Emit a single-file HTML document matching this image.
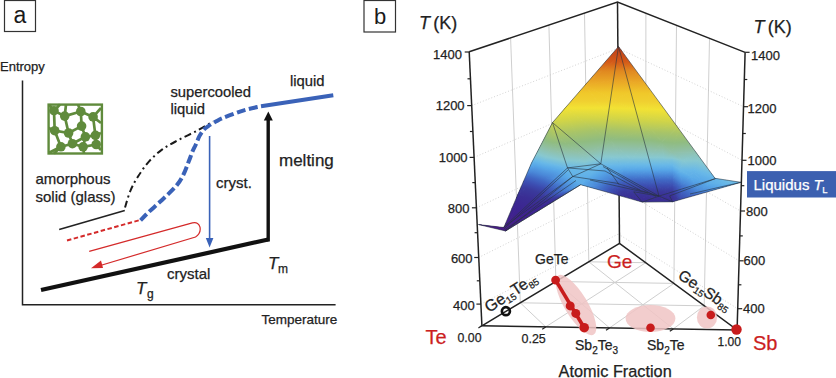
<!DOCTYPE html><html><head><meta charset="utf-8"><style>html,body{margin:0;padding:0;background:#fff;}svg{display:block;}</style></head><body>
<svg width="836" height="378" viewBox="0 0 836 378" style='font-family:"Liberation Sans", sans-serif'>
<defs><linearGradient id="cm"><stop offset="0.0000" stop-color="#4a1a88"/><stop offset="0.1064" stop-color="#3c2490"/><stop offset="0.1755" stop-color="#3a2e94"/><stop offset="0.2128" stop-color="#3a3a9c"/><stop offset="0.2394" stop-color="#3c4cb0"/><stop offset="0.2713" stop-color="#4068c4"/><stop offset="0.3032" stop-color="#4a88d8"/><stop offset="0.3457" stop-color="#58a8e8"/><stop offset="0.3723" stop-color="#68b8e8"/><stop offset="0.4149" stop-color="#88c8d0"/><stop offset="0.4628" stop-color="#90c0a8"/><stop offset="0.5106" stop-color="#90bc80"/><stop offset="0.5585" stop-color="#a8c468"/><stop offset="0.6170" stop-color="#d0d448"/><stop offset="0.6755" stop-color="#f2e234"/><stop offset="0.7128" stop-color="#f0d030"/><stop offset="0.7553" stop-color="#f0c82a"/><stop offset="0.8138" stop-color="#eaa826"/><stop offset="0.8723" stop-color="#e08820"/><stop offset="0.9202" stop-color="#d45a18"/><stop offset="0.9787" stop-color="#c44418"/><stop offset="1.0000" stop-color="#b83818"/></linearGradient><clipPath id="silclip"><polygon points="478.3,224.5 503.8,227.5 518.0,194.0 531.5,163.0 552.5,122.6 618.5,46.5 715.0,178.3 741.0,182.3 672.7,201.8 642.2,202.1 580.7,184.7 505.5,231.0"/></clipPath><linearGradient id="s0" gradientUnits="userSpaceOnUse" x1="643.87" y1="140.48" x2="679.76" y2="90.42" href="#cm"/><linearGradient id="s1" gradientUnits="userSpaceOnUse" x1="661.79" y1="206.73" x2="710.14" y2="77.51" href="#cm"/><linearGradient id="s2" gradientUnits="userSpaceOnUse" x1="578.54" y1="251.73" x2="674.06" y2="-84.80" href="#cm"/><linearGradient id="s3" gradientUnits="userSpaceOnUse" x1="548.91" y1="230.82" x2="548.12" y2="45.44" href="#cm"/><linearGradient id="s4" gradientUnits="userSpaceOnUse" x1="510.53" y1="230.75" x2="501.80" y2="51.75" href="#cm"/><linearGradient id="s5" gradientUnits="userSpaceOnUse" x1="631.77" y1="240.31" x2="627.45" y2="46.30" href="#cm"/><linearGradient id="s6" gradientUnits="userSpaceOnUse" x1="626.67" y1="235.00" x2="626.67" y2="47.00" href="#cm"/><linearGradient id="s7" gradientUnits="userSpaceOnUse" x1="685.38" y1="196.08" x2="731.04" y2="105.29" href="#cm"/><linearGradient id="s8" gradientUnits="userSpaceOnUse" x1="527.67" y1="220.21" x2="506.52" y2="66.40" href="#cm"/><linearGradient id="s9" gradientUnits="userSpaceOnUse" x1="496.68" y1="232.71" x2="358.53" y2="-478.77" href="#cm"/><linearGradient id="s10" gradientUnits="userSpaceOnUse" x1="496.37" y1="227.63" x2="504.53" y2="112.14" href="#cm"/><linearGradient id="s11" gradientUnits="userSpaceOnUse" x1="503.80" y1="229.31" x2="627.48" y2="104.74" href="#cm"/><linearGradient id="s12" gradientUnits="userSpaceOnUse" x1="626.00" y1="235.00" x2="626.00" y2="47.00" href="#cm"/><linearGradient id="s13" gradientUnits="userSpaceOnUse" x1="708.90" y1="217.54" x2="701.97" y2="128.90" href="#cm"/><linearGradient id="s14" gradientUnits="userSpaceOnUse" x1="653.42" y1="242.09" x2="661.62" y2="45.78" href="#cm"/><linearGradient id="s15" gradientUnits="userSpaceOnUse" x1="633.99" y1="241.31" x2="637.71" y2="45.15" href="#cm"/><linearGradient id="s16" gradientUnits="userSpaceOnUse" x1="619.14" y1="235.72" x2="626.04" y2="47.28" href="#cm"/><linearGradient id="s17" gradientUnits="userSpaceOnUse" x1="500.66" y1="242.08" x2="679.93" y2="42.63" href="#cm"/><linearGradient id="s18" gradientUnits="userSpaceOnUse" x1="530.35" y1="230.42" x2="609.29" y2="63.21" href="#cm"/><linearGradient id="s19" gradientUnits="userSpaceOnUse" x1="527.77" y1="238.00" x2="647.74" y2="64.85" href="#cm"/><linearGradient id="s20" gradientUnits="userSpaceOnUse" x1="541.78" y1="223.13" x2="572.69" y2="67.23" href="#cm"/><linearGradient id="s21" gradientUnits="userSpaceOnUse" x1="694.22" y1="254.43" x2="689.23" y2="28.27" href="#cm"/><linearGradient id="s22" gradientUnits="userSpaceOnUse" x1="673.79" y1="257.73" x2="747.25" y2="28.85" href="#cm"/><linearGradient id="s23" gradientUnits="userSpaceOnUse" x1="634.00" y1="227.92" x2="581.16" y2="56.18" href="#cm"/><linearGradient id="s24" gradientUnits="userSpaceOnUse" x1="647.96" y1="234.09" x2="486.33" y2="64.80" href="#cm"/><linearGradient id="s25" gradientUnits="userSpaceOnUse" x1="628.36" y1="229.29" x2="576.93" y2="58.41" href="#cm"/><linearGradient id="s26" gradientUnits="userSpaceOnUse" x1="505.53" y1="236.10" x2="689.19" y2="58.24" href="#cm"/><linearGradient id="s27" gradientUnits="userSpaceOnUse" x1="544.68" y1="445.89" x2="626.90" y2="-298.40" href="#cm"/><linearGradient id="s28" gradientUnits="userSpaceOnUse" x1="519.08" y1="215.93" x2="485.22" y2="87.59" href="#cm"/><linearGradient id="s29" gradientUnits="userSpaceOnUse" x1="496.63" y1="234.17" x2="567.42" y2="4.83" href="#cm"/><linearGradient id="s30" gradientUnits="userSpaceOnUse" x1="499.03" y1="231.41" x2="534.08" y2="7.13" href="#cm"/><linearGradient id="s31" gradientUnits="userSpaceOnUse" x1="508.48" y1="233.53" x2="575.52" y2="8.65" href="#cm"/><linearGradient id="s32" gradientUnits="userSpaceOnUse" x1="475.78" y1="176.90" x2="613.69" y2="106.73" href="#cm"/><linearGradient id="s33" gradientUnits="userSpaceOnUse" x1="525.75" y1="220.83" x2="572.32" y2="65.60" href="#cm"/><linearGradient id="s34" gradientUnits="userSpaceOnUse" x1="537.86" y1="230.53" x2="580.35" y2="53.42" href="#cm"/><linearGradient id="s35" gradientUnits="userSpaceOnUse" x1="540.56" y1="223.35" x2="571.60" y2="66.27" href="#cm"/><linearGradient id="s36" gradientUnits="userSpaceOnUse" x1="603.00" y1="235.00" x2="603.00" y2="47.00" href="#cm"/><linearGradient id="s37" gradientUnits="userSpaceOnUse" x1="587.00" y1="235.00" x2="587.00" y2="47.00" href="#cm"/><linearGradient id="s38" gradientUnits="userSpaceOnUse" x1="604.33" y1="235.00" x2="604.33" y2="47.00" href="#cm"/><linearGradient id="s39" gradientUnits="userSpaceOnUse" x1="605.00" y1="235.00" x2="605.00" y2="47.00" href="#cm"/><linearGradient id="s40" gradientUnits="userSpaceOnUse" x1="598.76" y1="243.01" x2="606.90" y2="46.02" href="#cm"/><linearGradient id="s41" gradientUnits="userSpaceOnUse" x1="725.62" y1="207.03" x2="718.32" y2="145.49" href="#cm"/><linearGradient id="s42" gradientUnits="userSpaceOnUse" x1="854.03" y1="357.87" x2="526.83" y2="-106.95" href="#cm"/><linearGradient id="s43" gradientUnits="userSpaceOnUse" x1="679.77" y1="242.98" x2="767.66" y2="62.80" href="#cm"/><linearGradient id="s44" gradientUnits="userSpaceOnUse" x1="669.67" y1="282.30" x2="763.65" y2="-10.53" href="#cm"/><linearGradient id="s45" gradientUnits="userSpaceOnUse" x1="681.20" y1="265.82" x2="728.06" y2="17.97" href="#cm"/><linearGradient id="s46" gradientUnits="userSpaceOnUse" x1="691.11" y1="333.15" x2="702.48" y2="-107.44" href="#cm"/><linearGradient id="s47" gradientUnits="userSpaceOnUse" x1="661.95" y1="245.12" x2="679.63" y2="44.19" href="#cm"/><linearGradient id="s48" gradientUnits="userSpaceOnUse" x1="692.10" y1="239.72" x2="676.07" y2="48.52" href="#cm"/><linearGradient id="s49" gradientUnits="userSpaceOnUse" x1="692.43" y1="241.82" x2="675.66" y2="46.02" href="#cm"/><linearGradient id="s50" gradientUnits="userSpaceOnUse" x1="654.34" y1="241.92" x2="662.60" y2="45.94" href="#cm"/><linearGradient id="s51" gradientUnits="userSpaceOnUse" x1="660.06" y1="239.93" x2="667.48" y2="47.72" href="#cm"/><linearGradient id="s52" gradientUnits="userSpaceOnUse" x1="631.30" y1="240.95" x2="639.58" y2="44.98" href="#cm"/><linearGradient id="s53" gradientUnits="userSpaceOnUse" x1="605.29" y1="236.94" x2="617.10" y2="38.68" href="#cm"/><linearGradient id="s54" gradientUnits="userSpaceOnUse" x1="700.23" y1="207.04" x2="692.41" y2="158.96" href="#cm"/><linearGradient id="s55" gradientUnits="userSpaceOnUse" x1="663.99" y1="230.80" x2="747.61" y2="83.04" href="#cm"/><linearGradient id="s56" gradientUnits="userSpaceOnUse" x1="646.37" y1="248.79" x2="794.70" y2="41.78" href="#cm"/><linearGradient id="s57" gradientUnits="userSpaceOnUse" x1="856.88" y1="438.66" x2="74.38" y2="-289.25" href="#cm"/><linearGradient id="s58" gradientUnits="userSpaceOnUse" x1="601.64" y1="353.31" x2="543.83" y2="-138.09" href="#cm"/><linearGradient id="s59" gradientUnits="userSpaceOnUse" x1="649.70" y1="237.93" x2="468.72" y2="69.58" href="#cm"/><linearGradient id="s60" gradientUnits="userSpaceOnUse" x1="620.49" y1="227.99" x2="557.88" y2="76.20" href="#cm"/><linearGradient id="s61" gradientUnits="userSpaceOnUse" x1="634.60" y1="239.13" x2="531.01" y2="50.65" href="#cm"/><linearGradient id="s62" gradientUnits="userSpaceOnUse" x1="601.29" y1="354.29" x2="571.21" y2="-142.08" href="#cm"/><linearGradient id="s63" gradientUnits="userSpaceOnUse" x1="557.41" y1="229.32" x2="569.63" y2="61.01" href="#cm"/><linearGradient id="s64" gradientUnits="userSpaceOnUse" x1="611.90" y1="228.83" x2="576.86" y2="59.72" href="#cm"/><linearGradient id="s65" gradientUnits="userSpaceOnUse" x1="608.67" y1="234.68" x2="562.38" y2="55.76" href="#cm"/><linearGradient id="s66" gradientUnits="userSpaceOnUse" x1="564.07" y1="233.71" x2="573.90" y2="57.01" href="#cm"/><linearGradient id="s67" gradientUnits="userSpaceOnUse" x1="570.73" y1="239.33" x2="591.56" y2="50.74" href="#cm"/><linearGradient id="s68" gradientUnits="userSpaceOnUse" x1="580.40" y1="252.72" x2="557.46" y2="38.51" href="#cm"/><linearGradient id="s69" gradientUnits="userSpaceOnUse" x1="519.93" y1="235.78" x2="535.45" y2="13.17" href="#cm"/><linearGradient id="s70" gradientUnits="userSpaceOnUse" x1="507.74" y1="219.92" x2="480.65" y2="99.14" href="#cm"/><linearGradient id="s71" gradientUnits="userSpaceOnUse" x1="501.49" y1="230.76" x2="527.33" y2="16.96" href="#cm"/><linearGradient id="s72" gradientUnits="userSpaceOnUse" x1="526.86" y1="221.22" x2="572.16" y2="65.54" href="#cm"/><linearGradient id="s73" gradientUnits="userSpaceOnUse" x1="524.38" y1="220.92" x2="571.50" y2="64.85" href="#cm"/><linearGradient id="s74" gradientUnits="userSpaceOnUse" x1="448.62" y1="237.73" x2="622.03" y2="46.72" href="#cm"/><linearGradient id="s75" gradientUnits="userSpaceOnUse" x1="506.77" y1="266.45" x2="589.00" y2="30.51" href="#cm"/><linearGradient id="s76" gradientUnits="userSpaceOnUse" x1="470.67" y1="185.03" x2="611.30" y2="87.63" href="#cm"/><linearGradient id="s77" gradientUnits="userSpaceOnUse" x1="477.30" y1="204.37" x2="609.54" y2="76.37" href="#cm"/><linearGradient id="s78" gradientUnits="userSpaceOnUse" x1="522.32" y1="219.64" x2="569.20" y2="64.99" href="#cm"/><linearGradient id="s79" gradientUnits="userSpaceOnUse" x1="549.87" y1="204.14" x2="517.92" y2="85.34" href="#cm"/><linearGradient id="s80" gradientUnits="userSpaceOnUse" x1="519.87" y1="219.26" x2="568.57" y2="64.26" href="#cm"/><linearGradient id="s81" gradientUnits="userSpaceOnUse" x1="529.42" y1="218.10" x2="533.96" y2="65.72" href="#cm"/><linearGradient id="s82" gradientUnits="userSpaceOnUse" x1="543.66" y1="221.73" x2="515.54" y2="58.42" href="#cm"/><linearGradient id="s83" gradientUnits="userSpaceOnUse" x1="660.86" y1="256.03" x2="788.70" y2="44.36" href="#cm"/><linearGradient id="s84" gradientUnits="userSpaceOnUse" x1="524.97" y1="285.22" x2="1041.72" y2="-7.87" href="#cm"/><linearGradient id="s85" gradientUnits="userSpaceOnUse" x1="697.24" y1="253.63" x2="742.43" y2="57.35" href="#cm"/><linearGradient id="s86" gradientUnits="userSpaceOnUse" x1="562.09" y1="345.95" x2="987.70" y2="-102.30" href="#cm"/><linearGradient id="s87" gradientUnits="userSpaceOnUse" x1="618.44" y1="235.93" x2="627.71" y2="47.46" href="#cm"/><linearGradient id="s88" gradientUnits="userSpaceOnUse" x1="613.00" y1="235.00" x2="613.00" y2="47.00" href="#cm"/><linearGradient id="s89" gradientUnits="userSpaceOnUse" x1="616.47" y1="229.44" x2="580.24" y2="56.95" href="#cm"/><linearGradient id="s90" gradientUnits="userSpaceOnUse" x1="595.00" y1="235.00" x2="595.00" y2="47.00" href="#cm"/><linearGradient id="s91" gradientUnits="userSpaceOnUse" x1="599.31" y1="250.82" x2="575.13" y2="36.40" href="#cm"/><linearGradient id="s92" gradientUnits="userSpaceOnUse" x1="656.27" y1="184.53" x2="660.06" y2="275.60" href="#cm"/><linearGradient id="s93" gradientUnits="userSpaceOnUse" x1="664.23" y1="188.85" x2="664.23" y2="254.65" href="#cm"/><linearGradient id="s94" gradientUnits="userSpaceOnUse" x1="630.79" y1="222.00" x2="592.50" y2="70.53" href="#cm"/><linearGradient id="s95" gradientUnits="userSpaceOnUse" x1="629.50" y1="211.86" x2="598.17" y2="93.40" href="#cm"/><linearGradient id="s96" gradientUnits="userSpaceOnUse" x1="627.26" y1="225.41" x2="604.74" y2="65.10" href="#cm"/><linearGradient id="s97" gradientUnits="userSpaceOnUse" x1="613.38" y1="233.90" x2="609.64" y2="49.51" href="#cm"/><linearGradient id="s98" gradientUnits="userSpaceOnUse" x1="618.00" y1="235.00" x2="618.00" y2="47.00" href="#cm"/><linearGradient id="s99" gradientUnits="userSpaceOnUse" x1="612.42" y1="238.58" x2="607.29" y2="41.90" href="#cm"/><linearGradient id="s100" gradientUnits="userSpaceOnUse" x1="518.85" y1="237.33" x2="542.10" y2="7.40" href="#cm"/><linearGradient id="s101" gradientUnits="userSpaceOnUse" x1="515.33" y1="220.71" x2="543.79" y2="80.10" href="#cm"/><linearGradient id="s102" gradientUnits="userSpaceOnUse" x1="518.76" y1="225.13" x2="565.99" y2="49.85" href="#cm"/><linearGradient id="s103" gradientUnits="userSpaceOnUse" x1="621.67" y1="235.00" x2="621.67" y2="47.00" href="#cm"/><linearGradient id="s104" gradientUnits="userSpaceOnUse" x1="627.55" y1="231.81" x2="633.88" y2="51.63" href="#cm"/><linearGradient id="s105" gradientUnits="userSpaceOnUse" x1="648.73" y1="178.71" x2="648.73" y2="304.33" href="#cm"/><linearGradient id="s106" gradientUnits="userSpaceOnUse" x1="637.33" y1="238.45" x2="637.33" y2="11.55" href="#cm"/><linearGradient id="s107" gradientUnits="userSpaceOnUse" x1="632.00" y1="238.45" x2="632.00" y2="11.55" href="#cm"/><linearGradient id="s108" gradientUnits="userSpaceOnUse" x1="639.99" y1="187.87" x2="614.84" y2="249.07" href="#cm"/><linearGradient id="s109" gradientUnits="userSpaceOnUse" x1="643.40" y1="178.71" x2="643.40" y2="304.33" href="#cm"/><linearGradient id="s110" gradientUnits="userSpaceOnUse" x1="663.69" y1="206.07" x2="691.84" y2="92.41" href="#cm"/><linearGradient id="s111" gradientUnits="userSpaceOnUse" x1="652.73" y1="228.34" x2="710.75" y2="60.39" href="#cm"/><linearGradient id="s112" gradientUnits="userSpaceOnUse" x1="633.12" y1="237.61" x2="750.09" y2="50.45" href="#cm"/><linearGradient id="s113" gradientUnits="userSpaceOnUse" x1="696.70" y1="322.78" x2="672.42" y2="-88.77" href="#cm"/><linearGradient id="s114" gradientUnits="userSpaceOnUse" x1="683.99" y1="251.04" x2="687.91" y2="33.65" href="#cm"/><linearGradient id="s115" gradientUnits="userSpaceOnUse" x1="667.02" y1="228.90" x2="717.42" y2="75.83" href="#cm"/><linearGradient id="s116" gradientUnits="userSpaceOnUse" x1="654.15" y1="209.63" x2="731.45" y2="109.26" href="#cm"/><linearGradient id="s117" gradientUnits="userSpaceOnUse" x1="649.98" y1="206.42" x2="728.27" y2="106.78" href="#cm"/><linearGradient id="s118" gradientUnits="userSpaceOnUse" x1="643.02" y1="230.68" x2="664.34" y2="54.58" href="#cm"/><linearGradient id="s119" gradientUnits="userSpaceOnUse" x1="669.57" y1="188.85" x2="669.57" y2="254.65" href="#cm"/><linearGradient id="s120" gradientUnits="userSpaceOnUse" x1="666.23" y1="190.14" x2="710.34" y2="239.32" href="#cm"/><linearGradient id="s121" gradientUnits="userSpaceOnUse" x1="654.72" y1="210.11" x2="755.59" y2="148.58" href="#cm"/><linearGradient id="s122" gradientUnits="userSpaceOnUse" x1="642.09" y1="211.39" x2="788.73" y2="130.54" href="#cm"/><linearGradient id="s123" gradientUnits="userSpaceOnUse" x1="655.78" y1="207.88" x2="744.17" y2="145.86" href="#cm"/><linearGradient id="s124" gradientUnits="userSpaceOnUse" x1="630.59" y1="229.00" x2="578.38" y2="56.83" href="#cm"/><linearGradient id="s125" gradientUnits="userSpaceOnUse" x1="631.51" y1="228.72" x2="579.31" y2="56.55" href="#cm"/><linearGradient id="s126" gradientUnits="userSpaceOnUse" x1="511.47" y1="234.20" x2="585.86" y2="14.52" href="#cm"/><linearGradient id="s127" gradientUnits="userSpaceOnUse" x1="519.03" y1="233.25" x2="578.73" y2="34.23" href="#cm"/><linearGradient id="s128" gradientUnits="userSpaceOnUse" x1="514.60" y1="237.36" x2="659.54" y2="53.24" href="#cm"/><linearGradient id="s129" gradientUnits="userSpaceOnUse" x1="555.87" y1="230.30" x2="554.40" y2="48.87" href="#cm"/><linearGradient id="s130" gradientUnits="userSpaceOnUse" x1="578.10" y1="213.73" x2="572.78" y2="131.87" href="#cm"/><linearGradient id="s131" gradientUnits="userSpaceOnUse" x1="522.46" y1="238.32" x2="593.67" y2="21.52" href="#cm"/><linearGradient id="s132" gradientUnits="userSpaceOnUse" x1="657.82" y1="206.44" x2="707.55" y2="103.80" href="#cm"/><linearGradient id="s133" gradientUnits="userSpaceOnUse" x1="648.06" y1="210.91" x2="721.53" y2="93.35" href="#cm"/><linearGradient id="s134" gradientUnits="userSpaceOnUse" x1="675.08" y1="212.75" x2="581.17" y2="114.57" href="#cm"/><linearGradient id="s135" gradientUnits="userSpaceOnUse" x1="676.64" y1="213.14" x2="565.51" y2="122.52" href="#cm"/><linearGradient id="s136" gradientUnits="userSpaceOnUse" x1="659.43" y1="317.08" x2="659.43" y2="-373.83" href="#cm"/><linearGradient id="s137" gradientUnits="userSpaceOnUse" x1="645.97" y1="229.53" x2="736.17" y2="47.26" href="#cm"/><linearGradient id="s138" gradientUnits="userSpaceOnUse" x1="641.00" y1="230.45" x2="641.00" y2="53.85" href="#cm"/><linearGradient id="s139" gradientUnits="userSpaceOnUse" x1="646.33" y1="230.45" x2="646.33" y2="53.85" href="#cm"/><linearGradient id="s140" gradientUnits="userSpaceOnUse" x1="650.94" y1="214.15" x2="742.65" y2="99.52" href="#cm"/><linearGradient id="s141" gradientUnits="userSpaceOnUse" x1="652.57" y1="215.46" x2="744.28" y2="100.82" href="#cm"/><linearGradient id="s142" gradientUnits="userSpaceOnUse" x1="659.43" y1="219.73" x2="659.43" y2="83.42" href="#cm"/><linearGradient id="s143" gradientUnits="userSpaceOnUse" x1="649.78" y1="225.51" x2="712.94" y2="61.89" href="#cm"/><linearGradient id="s144" gradientUnits="userSpaceOnUse" x1="669.33" y1="208.12" x2="669.33" y2="87.49" href="#cm"/><linearGradient id="s145" gradientUnits="userSpaceOnUse" x1="646.26" y1="217.67" x2="689.19" y2="72.65" href="#cm"/><linearGradient id="s146" gradientUnits="userSpaceOnUse" x1="655.23" y1="225.36" x2="655.23" y2="61.53" href="#cm"/><linearGradient id="s147" gradientUnits="userSpaceOnUse" x1="660.57" y1="225.36" x2="660.57" y2="61.53" href="#cm"/><linearGradient id="s148" gradientUnits="userSpaceOnUse" x1="521.37" y1="219.10" x2="567.89" y2="65.00" href="#cm"/><linearGradient id="s149" gradientUnits="userSpaceOnUse" x1="527.14" y1="219.58" x2="567.37" y2="66.98" href="#cm"/><linearGradient id="s150" gradientUnits="userSpaceOnUse" x1="629.33" y1="213.31" x2="629.33" y2="86.57" href="#cm"/><linearGradient id="s151" gradientUnits="userSpaceOnUse" x1="626.67" y1="213.31" x2="626.67" y2="86.57" href="#cm"/><linearGradient id="s152" gradientUnits="userSpaceOnUse" x1="626.67" y1="225.87" x2="626.67" y2="62.39" href="#cm"/><linearGradient id="s153" gradientUnits="userSpaceOnUse" x1="629.33" y1="225.87" x2="629.33" y2="62.39" href="#cm"/><linearGradient id="s154" gradientUnits="userSpaceOnUse" x1="637.33" y1="225.87" x2="637.33" y2="62.39" href="#cm"/><linearGradient id="s155" gradientUnits="userSpaceOnUse" x1="634.67" y1="225.87" x2="634.67" y2="62.39" href="#cm"/><linearGradient id="s156" gradientUnits="userSpaceOnUse" x1="522.04" y1="225.56" x2="574.31" y2="53.44" href="#cm"/><linearGradient id="s157" gradientUnits="userSpaceOnUse" x1="525.88" y1="226.59" x2="577.27" y2="54.64" href="#cm"/><linearGradient id="s158" gradientUnits="userSpaceOnUse" x1="629.33" y1="235.00" x2="629.33" y2="47.00" href="#cm"/><linearGradient id="s159" gradientUnits="userSpaceOnUse" x1="626.67" y1="235.00" x2="626.67" y2="47.00" href="#cm"/><linearGradient id="s160" gradientUnits="userSpaceOnUse" x1="661.33" y1="231.00" x2="661.33" y2="43.00" href="#cm"/><linearGradient id="s161" gradientUnits="userSpaceOnUse" x1="658.67" y1="231.00" x2="658.67" y2="43.00" href="#cm"/><linearGradient id="s162" gradientUnits="userSpaceOnUse" x1="666.67" y1="238.45" x2="666.67" y2="11.55" href="#cm"/><linearGradient id="s163" gradientUnits="userSpaceOnUse" x1="669.33" y1="238.45" x2="669.33" y2="11.55" href="#cm"/><linearGradient id="s164" gradientUnits="userSpaceOnUse" x1="629.33" y1="223.71" x2="629.33" y2="62.57" href="#cm"/><linearGradient id="s165" gradientUnits="userSpaceOnUse" x1="626.67" y1="223.71" x2="626.67" y2="62.57" href="#cm"/><linearGradient id="s166" gradientUnits="userSpaceOnUse" x1="629.33" y1="231.00" x2="629.33" y2="43.00" href="#cm"/><linearGradient id="s167" gradientUnits="userSpaceOnUse" x1="626.67" y1="231.00" x2="626.67" y2="43.00" href="#cm"/><linearGradient id="s168" gradientUnits="userSpaceOnUse" x1="634.67" y1="231.00" x2="634.67" y2="43.00" href="#cm"/><linearGradient id="s169" gradientUnits="userSpaceOnUse" x1="637.33" y1="231.00" x2="637.33" y2="43.00" href="#cm"/><linearGradient id="s170" gradientUnits="userSpaceOnUse" x1="513.52" y1="231.59" x2="573.23" y2="32.58" href="#cm"/><linearGradient id="s171" gradientUnits="userSpaceOnUse" x1="511.59" y1="231.02" x2="571.30" y2="32.00" href="#cm"/><linearGradient id="s172" gradientUnits="userSpaceOnUse" x1="516.25" y1="235.24" x2="578.07" y2="20.79" href="#cm"/><linearGradient id="s173" gradientUnits="userSpaceOnUse" x1="517.81" y1="236.73" x2="589.66" y2="20.41" href="#cm"/><linearGradient id="s174" gradientUnits="userSpaceOnUse" x1="515.59" y1="233.31" x2="573.25" y2="25.63" href="#cm"/><linearGradient id="s175" gradientUnits="userSpaceOnUse" x1="516.92" y1="231.06" x2="577.16" y2="35.09" href="#cm"/><linearGradient id="s176" gradientUnits="userSpaceOnUse" x1="520.95" y1="231.81" x2="586.66" y2="39.82" href="#cm"/><linearGradient id="s177" gradientUnits="userSpaceOnUse" x1="527.77" y1="232.32" x2="580.80" y2="42.68" href="#cm"/><linearGradient id="s178" gradientUnits="userSpaceOnUse" x1="645.33" y1="231.00" x2="645.33" y2="43.00" href="#cm"/><linearGradient id="s179" gradientUnits="userSpaceOnUse" x1="642.67" y1="231.00" x2="642.67" y2="43.00" href="#cm"/><linearGradient id="s180" gradientUnits="userSpaceOnUse" x1="642.67" y1="231.00" x2="642.67" y2="43.00" href="#cm"/><linearGradient id="s181" gradientUnits="userSpaceOnUse" x1="645.33" y1="231.00" x2="645.33" y2="43.00" href="#cm"/><linearGradient id="s182" gradientUnits="userSpaceOnUse" x1="653.33" y1="231.00" x2="653.33" y2="43.00" href="#cm"/><linearGradient id="s183" gradientUnits="userSpaceOnUse" x1="650.67" y1="231.00" x2="650.67" y2="43.00" href="#cm"/><linearGradient id="s184" gradientUnits="userSpaceOnUse" x1="653.33" y1="231.00" x2="653.33" y2="43.00" href="#cm"/><linearGradient id="s185" gradientUnits="userSpaceOnUse" x1="650.67" y1="231.00" x2="650.67" y2="43.00" href="#cm"/><linearGradient id="s186" gradientUnits="userSpaceOnUse" x1="645.33" y1="238.45" x2="645.33" y2="11.55" href="#cm"/><linearGradient id="s187" gradientUnits="userSpaceOnUse" x1="642.67" y1="238.45" x2="642.67" y2="11.55" href="#cm"/><linearGradient id="s188" gradientUnits="userSpaceOnUse" x1="645.33" y1="231.00" x2="645.33" y2="43.00" href="#cm"/><linearGradient id="s189" gradientUnits="userSpaceOnUse" x1="642.67" y1="231.00" x2="642.67" y2="43.00" href="#cm"/><linearGradient id="s190" gradientUnits="userSpaceOnUse" x1="653.33" y1="238.45" x2="653.33" y2="11.55" href="#cm"/><linearGradient id="s191" gradientUnits="userSpaceOnUse" x1="650.67" y1="238.45" x2="650.67" y2="11.55" href="#cm"/><linearGradient id="s192" gradientUnits="userSpaceOnUse" x1="650.67" y1="231.00" x2="650.67" y2="43.00" href="#cm"/><linearGradient id="s193" gradientUnits="userSpaceOnUse" x1="653.33" y1="231.00" x2="653.33" y2="43.00" href="#cm"/><linearGradient id="s194" gradientUnits="userSpaceOnUse" x1="661.33" y1="223.71" x2="661.33" y2="62.57" href="#cm"/><linearGradient id="s195" gradientUnits="userSpaceOnUse" x1="658.67" y1="223.71" x2="658.67" y2="62.57" href="#cm"/><linearGradient id="s196" gradientUnits="userSpaceOnUse" x1="669.33" y1="223.71" x2="669.33" y2="62.57" href="#cm"/><linearGradient id="s197" gradientUnits="userSpaceOnUse" x1="666.67" y1="223.71" x2="666.67" y2="62.57" href="#cm"/><linearGradient id="s198" gradientUnits="userSpaceOnUse" x1="669.33" y1="213.31" x2="669.33" y2="86.57" href="#cm"/><linearGradient id="s199" gradientUnits="userSpaceOnUse" x1="666.67" y1="213.31" x2="666.67" y2="86.57" href="#cm"/><linearGradient id="s200" gradientUnits="userSpaceOnUse" x1="666.67" y1="225.87" x2="666.67" y2="62.39" href="#cm"/><linearGradient id="s201" gradientUnits="userSpaceOnUse" x1="669.33" y1="225.87" x2="669.33" y2="62.39" href="#cm"/><linearGradient id="s202" gradientUnits="userSpaceOnUse" x1="637.33" y1="235.00" x2="637.33" y2="47.00" href="#cm"/><linearGradient id="s203" gradientUnits="userSpaceOnUse" x1="634.67" y1="235.00" x2="634.67" y2="47.00" href="#cm"/><linearGradient id="s204" gradientUnits="userSpaceOnUse" x1="650.67" y1="223.71" x2="650.67" y2="62.57" href="#cm"/><linearGradient id="s205" gradientUnits="userSpaceOnUse" x1="653.33" y1="223.71" x2="653.33" y2="62.57" href="#cm"/><linearGradient id="s206" gradientUnits="userSpaceOnUse" x1="642.67" y1="235.00" x2="642.67" y2="47.00" href="#cm"/><linearGradient id="s207" gradientUnits="userSpaceOnUse" x1="645.33" y1="235.00" x2="645.33" y2="47.00" href="#cm"/><linearGradient id="s208" gradientUnits="userSpaceOnUse" x1="642.67" y1="225.87" x2="642.67" y2="62.39" href="#cm"/><linearGradient id="s209" gradientUnits="userSpaceOnUse" x1="645.33" y1="225.87" x2="645.33" y2="62.39" href="#cm"/><linearGradient id="s210" gradientUnits="userSpaceOnUse" x1="666.67" y1="231.00" x2="666.67" y2="43.00" href="#cm"/><linearGradient id="s211" gradientUnits="userSpaceOnUse" x1="669.33" y1="231.00" x2="669.33" y2="43.00" href="#cm"/><linearGradient id="s212" gradientUnits="userSpaceOnUse" x1="666.67" y1="231.00" x2="666.67" y2="43.00" href="#cm"/><linearGradient id="s213" gradientUnits="userSpaceOnUse" x1="669.33" y1="231.00" x2="669.33" y2="43.00" href="#cm"/><linearGradient id="s214" gradientUnits="userSpaceOnUse" x1="666.67" y1="231.00" x2="666.67" y2="43.00" href="#cm"/><linearGradient id="s215" gradientUnits="userSpaceOnUse" x1="669.33" y1="231.00" x2="669.33" y2="43.00" href="#cm"/><linearGradient id="s216" gradientUnits="userSpaceOnUse" x1="661.33" y1="231.00" x2="661.33" y2="43.00" href="#cm"/><linearGradient id="s217" gradientUnits="userSpaceOnUse" x1="658.67" y1="231.00" x2="658.67" y2="43.00" href="#cm"/><linearGradient id="s218" gradientUnits="userSpaceOnUse" x1="626.67" y1="231.00" x2="626.67" y2="43.00" href="#cm"/><linearGradient id="s219" gradientUnits="userSpaceOnUse" x1="629.33" y1="231.00" x2="629.33" y2="43.00" href="#cm"/><linearGradient id="s220" gradientUnits="userSpaceOnUse" x1="629.33" y1="231.00" x2="629.33" y2="43.00" href="#cm"/><linearGradient id="s221" gradientUnits="userSpaceOnUse" x1="626.67" y1="231.00" x2="626.67" y2="43.00" href="#cm"/><linearGradient id="s222" gradientUnits="userSpaceOnUse" x1="637.33" y1="231.00" x2="637.33" y2="43.00" href="#cm"/><linearGradient id="s223" gradientUnits="userSpaceOnUse" x1="634.67" y1="231.00" x2="634.67" y2="43.00" href="#cm"/><linearGradient id="s224" gradientUnits="userSpaceOnUse" x1="634.67" y1="231.00" x2="634.67" y2="43.00" href="#cm"/><linearGradient id="s225" gradientUnits="userSpaceOnUse" x1="637.33" y1="231.00" x2="637.33" y2="43.00" href="#cm"/><linearGradient id="s226" gradientUnits="userSpaceOnUse" x1="666.67" y1="235.00" x2="666.67" y2="47.00" href="#cm"/><linearGradient id="s227" gradientUnits="userSpaceOnUse" x1="669.33" y1="235.00" x2="669.33" y2="47.00" href="#cm"/><linearGradient id="s228" gradientUnits="userSpaceOnUse" x1="642.67" y1="213.31" x2="642.67" y2="86.57" href="#cm"/><linearGradient id="s229" gradientUnits="userSpaceOnUse" x1="645.33" y1="213.31" x2="645.33" y2="86.57" href="#cm"/><linearGradient id="s230" gradientUnits="userSpaceOnUse" x1="642.67" y1="223.71" x2="642.67" y2="62.57" href="#cm"/><linearGradient id="s231" gradientUnits="userSpaceOnUse" x1="645.33" y1="223.71" x2="645.33" y2="62.57" href="#cm"/><linearGradient id="s232" gradientUnits="userSpaceOnUse" x1="634.67" y1="213.31" x2="634.67" y2="86.57" href="#cm"/><linearGradient id="s233" gradientUnits="userSpaceOnUse" x1="637.33" y1="213.31" x2="637.33" y2="86.57" href="#cm"/><linearGradient id="s234" gradientUnits="userSpaceOnUse" x1="634.67" y1="223.71" x2="634.67" y2="62.57" href="#cm"/><linearGradient id="s235" gradientUnits="userSpaceOnUse" x1="637.33" y1="223.71" x2="637.33" y2="62.57" href="#cm"/><linearGradient id="s236" gradientUnits="userSpaceOnUse" x1="658.67" y1="213.31" x2="658.67" y2="86.57" href="#cm"/><linearGradient id="s237" gradientUnits="userSpaceOnUse" x1="661.33" y1="213.31" x2="661.33" y2="86.57" href="#cm"/><linearGradient id="s238" gradientUnits="userSpaceOnUse" x1="661.33" y1="225.87" x2="661.33" y2="62.39" href="#cm"/><linearGradient id="s239" gradientUnits="userSpaceOnUse" x1="658.67" y1="225.87" x2="658.67" y2="62.39" href="#cm"/><linearGradient id="s240" gradientUnits="userSpaceOnUse" x1="653.33" y1="213.31" x2="653.33" y2="86.57" href="#cm"/><linearGradient id="s241" gradientUnits="userSpaceOnUse" x1="650.67" y1="213.31" x2="650.67" y2="86.57" href="#cm"/><linearGradient id="s242" gradientUnits="userSpaceOnUse" x1="650.67" y1="225.87" x2="650.67" y2="62.39" href="#cm"/><linearGradient id="s243" gradientUnits="userSpaceOnUse" x1="653.33" y1="225.87" x2="653.33" y2="62.39" href="#cm"/><linearGradient id="s244" gradientUnits="userSpaceOnUse" x1="650.67" y1="235.00" x2="650.67" y2="47.00" href="#cm"/><linearGradient id="s245" gradientUnits="userSpaceOnUse" x1="653.33" y1="235.00" x2="653.33" y2="47.00" href="#cm"/><linearGradient id="s246" gradientUnits="userSpaceOnUse" x1="661.33" y1="235.00" x2="661.33" y2="47.00" href="#cm"/><linearGradient id="s247" gradientUnits="userSpaceOnUse" x1="658.67" y1="235.00" x2="658.67" y2="47.00" href="#cm"/></defs>
<rect x="4.5" y="0.5" width="31" height="31" fill="none" stroke="#333" stroke-width="1.2"/>
<text x="20" y="22.5" font-size="23" text-anchor="middle" fill="#1a1a1a">a</text>
<text x="0" y="70.6" font-size="13" fill="#222" stroke="#222" stroke-width="0.25">Entropy</text>
<text x="261.5" y="324" font-size="13.5" fill="#222" stroke="#222" stroke-width="0.25">Temperature</text>
<polyline points="22.5,80.5 22.5,304.8 335.6,304.8" fill="none" stroke="#222" stroke-width="1.5"/>
<g stroke="#608b3c" fill="#608b3c">
<rect x="48.6" y="104.6" width="53.3" height="48.9" fill="none" stroke-width="2.4"/>
<g stroke-width="2.7">
<line x1="54.0" y1="110.7" x2="64.7" y2="116.1"/>
<line x1="64.7" y1="116.1" x2="80.8" y2="111.5"/>
<line x1="80.8" y1="111.5" x2="93.1" y2="116.9"/>
<line x1="54.0" y1="110.7" x2="54.7" y2="130.7"/>
<line x1="64.7" y1="116.1" x2="68.6" y2="133.0"/>
<line x1="54.7" y1="130.7" x2="68.6" y2="133.0"/>
<line x1="68.6" y1="133.0" x2="81.6" y2="126.1"/>
<line x1="80.8" y1="111.5" x2="81.6" y2="126.1"/>
<line x1="81.6" y1="126.1" x2="85.4" y2="136.8"/>
<line x1="93.1" y1="116.9" x2="95.4" y2="135.3"/>
<line x1="85.4" y1="136.8" x2="95.4" y2="135.3"/>
<line x1="54.7" y1="130.7" x2="60.9" y2="146.8"/>
<line x1="68.6" y1="133.0" x2="72.4" y2="143.7"/>
<line x1="60.9" y1="146.8" x2="72.4" y2="143.7"/>
<line x1="72.4" y1="143.7" x2="83.1" y2="146.8"/>
<line x1="83.1" y1="146.8" x2="96.2" y2="144.5"/>
<line x1="85.4" y1="136.8" x2="83.1" y2="146.8"/>
<line x1="95.4" y1="135.3" x2="96.2" y2="144.5"/>
<line x1="85.4" y1="136.8" x2="72.4" y2="143.7"/>
<line x1="54.0" y1="110.7" x2="49.0" y2="104.5"/>
<line x1="64.7" y1="116.1" x2="66.0" y2="104.5"/>
<line x1="80.8" y1="111.5" x2="78.0" y2="104.5"/>
<line x1="93.1" y1="116.9" x2="101.0" y2="108.0"/>
<line x1="93.1" y1="116.9" x2="101.0" y2="123.0"/>
<line x1="54.7" y1="130.7" x2="48.5" y2="128.0"/>
<line x1="60.9" y1="146.8" x2="48.5" y2="153.0"/>
<line x1="60.9" y1="146.8" x2="54.0" y2="153.5"/>
<line x1="83.1" y1="146.8" x2="84.0" y2="153.5"/>
<line x1="96.2" y1="144.5" x2="101.0" y2="150.0"/>
<line x1="95.4" y1="135.3" x2="101.0" y2="133.0"/>
<line x1="54.0" y1="110.7" x2="60.0" y2="104.5"/>
</g>
<circle cx="54.0" cy="110.7" r="4.8" stroke="none"/>
<circle cx="64.7" cy="116.1" r="4.8" stroke="none"/>
<circle cx="80.8" cy="111.5" r="4.8" stroke="none"/>
<circle cx="93.1" cy="116.9" r="4.8" stroke="none"/>
<circle cx="54.7" cy="130.7" r="4.8" stroke="none"/>
<circle cx="68.6" cy="133.0" r="4.8" stroke="none"/>
<circle cx="81.6" cy="126.1" r="4.8" stroke="none"/>
<circle cx="85.4" cy="136.8" r="4.8" stroke="none"/>
<circle cx="95.4" cy="135.3" r="4.8" stroke="none"/>
<circle cx="60.9" cy="146.8" r="4.8" stroke="none"/>
<circle cx="72.4" cy="143.7" r="4.8" stroke="none"/>
<circle cx="83.1" cy="146.8" r="4.8" stroke="none"/>
<circle cx="96.2" cy="144.5" r="4.8" stroke="none"/>
</g>
<text x="35.5" y="184.2" font-size="15" fill="#222" stroke="#222" stroke-width="0.25">amorphous</text>
<text x="35.5" y="202.3" font-size="15" fill="#222" stroke="#222" stroke-width="0.25">solid (glass)</text>
<text x="170.4" y="96.8" font-size="14.8" fill="#222" stroke="#222" stroke-width="0.25">supercooled</text>
<text x="170.4" y="114.3" font-size="14.8" fill="#222" stroke="#222" stroke-width="0.25">liquid</text>
<text x="290" y="85.6" font-size="14.8" fill="#222" stroke="#222" stroke-width="0.25">liquid</text>
<text x="279" y="165.6" font-size="17" fill="#222" stroke="#222" stroke-width="0.25">melting</text>
<text x="216" y="187.8" font-size="15" fill="#222" stroke="#222" stroke-width="0.25">cryst.</text>
<text x="167" y="278.6" font-size="15" fill="#222" stroke="#222" stroke-width="0.25">crystal</text>
<text x="136" y="293.6" font-size="17" font-style="italic" fill="#222" stroke="#222" stroke-width="0.25">T</text>
<text x="147" y="298" font-size="12" fill="#222" stroke="#222" stroke-width="0.25">g</text>
<text x="268" y="268.5" font-size="17" font-style="italic" fill="#222" stroke="#222" stroke-width="0.25">T</text>
<text x="278" y="272.5" font-size="12" fill="#222" stroke="#222" stroke-width="0.25">m</text>
<line x1="59.2" y1="229.5" x2="124.8" y2="210.4" stroke="#222" stroke-width="1.6"/>
<path d="M125.0,207.5 C125.9,204.7 128.3,195.7 130.6,190.4 C132.8,185.1 135.4,180.7 138.5,175.8 C141.6,171.0 145.1,165.7 149.1,161.3 C153.1,156.9 157.5,152.9 162.3,149.4 C167.2,145.9 172.5,143.2 178.2,140.1 C183.9,137.0 190.9,134.0 196.7,130.9 C202.5,127.8 210.3,123.1 213.0,121.5" fill="none" stroke="#1a1a1a" stroke-width="2" stroke-dasharray="7,3.5,2,3.5"/>
<line x1="67" y1="240.5" x2="139" y2="220.3" stroke="#d42a2a" stroke-width="2" stroke-dasharray="4.5,2.5"/>
<path d="M89.2,251.3 L192.4,222.9 C201,220.5 203,232 195.5,237 L97,266.5" fill="none" stroke="#d42a2a" stroke-width="1.2"/>
<polygon points="91,268.3 101,260.5 103,268" fill="#d42a2a"/>
<path d="M140.6,220.4 C141.8,219.2 144.2,216.4 147.8,212.9 C151.4,209.4 157.5,204.3 162.3,199.7 C167.2,195.1 173.4,189.3 176.9,185.1 C180.4,180.9 181.5,178.5 183.5,174.5 C185.5,170.5 187.3,165.1 188.8,161.3 C190.3,157.6 191.2,154.7 192.3,152.0 C193.4,149.3 194.4,147.6 195.6,145.0 C196.8,142.4 198.1,138.7 199.4,136.2 C200.7,133.7 202.0,131.7 203.5,130.0 C205.0,128.3 206.2,127.5 208.3,126.1 C210.4,124.6 213.7,122.8 216.3,121.3 C219.0,119.8 219.6,119.2 224.2,117.4 C228.8,115.6 237.8,112.2 243.9,110.3 C250.0,108.4 258.1,107.0 261.0,106.3" fill="none" stroke="#3a62b8" stroke-width="4" stroke-dasharray="9,3.5"/>
<path d="M261,106.3 L333.3,95.2" fill="none" stroke="#3a62b8" stroke-width="4"/>
<line x1="209.6" y1="136" x2="209.6" y2="241" stroke="#3a62b8" stroke-width="1.6"/>
<polygon points="205.8,238 213.4,238 209.6,247.5" fill="#3a62b8"/>
<polyline points="41,290 268.2,239.5" fill="none" stroke="#111" stroke-width="4.2"/><line x1="268.2" y1="241.5" x2="268.2" y2="119" stroke="#111" stroke-width="3.4"/>
<polygon points="263.8,120.5 272.8,120.5 268.3,111.5" fill="#111"/>
<rect x="364" y="0.5" width="31.5" height="31.5" fill="none" stroke="#333" stroke-width="1.2"/>
<text x="380" y="23.7" font-size="22" text-anchor="middle" fill="#1a1a1a">b</text>
<text x="419" y="29.4" font-size="18" fill="#222" stroke="#222" stroke-width="0.25"><tspan font-style="italic">T</tspan><tspan dx="3.2">(K)</tspan></text>
<text x="753.5" y="33.2" font-size="18" fill="#222" stroke="#222" stroke-width="0.25"><tspan font-style="italic">T</tspan><tspan dx="3.2">(K)</tspan></text>
<g stroke="#cfcfcf" stroke-width="1" fill="none">
<line x1="510.6" y1="37.9" x2="520.3" y2="302.8"/>
<line x1="645.9" y1="13.2" x2="645.7" y2="262.7"/>
<line x1="548.9" y1="25.0" x2="555.9" y2="281.5"/>
<line x1="676.5" y1="25.3" x2="673.9" y2="283.4"/>
<line x1="584.5" y1="13.1" x2="588.8" y2="261.8"/>
<line x1="709.5" y1="38.3" x2="704.2" y2="305.8"/>
<line x1="520.3" y1="302.8" x2="704.2" y2="305.8"/>
<line x1="545.7" y1="326.9" x2="645.7" y2="262.7"/>
<line x1="545.7" y1="326.9" x2="520.3" y2="302.8"/>
<line x1="555.9" y1="281.5" x2="673.9" y2="283.4"/>
<line x1="609.5" y1="327.9" x2="673.9" y2="283.4"/>
<line x1="609.5" y1="327.9" x2="555.9" y2="281.5"/>
<line x1="588.8" y1="261.8" x2="645.7" y2="262.7"/>
<line x1="673.3" y1="328.9" x2="704.2" y2="305.8"/>
<line x1="673.3" y1="328.9" x2="588.8" y2="261.8"/>
</g>
<g stroke="#c8c8c8" stroke-width="0.8" stroke-dasharray="1,2" fill="none">
<line x1="471.7" y1="105.6" x2="618.3" y2="48.4"/>
<line x1="618.3" y1="48.4" x2="743.5" y2="106.7"/>
<line x1="474.1" y1="157.4" x2="618.3" y2="94.8"/>
<line x1="618.3" y1="94.8" x2="742.0" y2="160.3"/>
<line x1="476.4" y1="207.8" x2="618.3" y2="141.2"/>
<line x1="618.3" y1="141.2" x2="740.5" y2="211.0"/>
<line x1="478.7" y1="257.5" x2="618.3" y2="187.6"/>
<line x1="618.3" y1="187.6" x2="739.1" y2="260.8"/>
<line x1="480.9" y1="304.1" x2="618.3" y2="234.0"/>
<line x1="618.3" y1="234.0" x2="737.7" y2="308.7"/>
</g>
<g stroke="#222" stroke-width="1.5" fill="none">
<polyline points="469.2,51.8 617.5,2.0 745.1,52.4"/>
<line x1="617.5" y1="2.0" x2="619.5" y2="243.4"/>
<line x1="469.2" y1="51.8" x2="481.9" y2="325.8"/>
<line x1="745.1" y1="52.4" x2="737.1" y2="330.0"/>
<polygon points="481.9,325.8 619.5,243.4 737.1,330.0"/>
</g>
<g stroke="#222" stroke-width="1.2">
<line x1="464.7" y1="52.0" x2="469.2" y2="52.0"/>
<line x1="467.2" y1="105.6" x2="471.7" y2="105.6"/>
<line x1="469.6" y1="157.4" x2="474.1" y2="157.4"/>
<line x1="471.9" y1="207.8" x2="476.4" y2="207.8"/>
<line x1="474.2" y1="257.5" x2="478.7" y2="257.5"/>
<line x1="476.4" y1="304.1" x2="480.9" y2="304.1"/>
<line x1="467.5" y1="78.8" x2="470.5" y2="78.8"/>
<line x1="469.9" y1="131.5" x2="472.9" y2="131.5"/>
<line x1="472.3" y1="182.6" x2="475.3" y2="182.6"/>
<line x1="474.6" y1="232.7" x2="477.6" y2="232.7"/>
<line x1="476.8" y1="280.8" x2="479.8" y2="280.8"/>
<line x1="745.1" y1="52.3" x2="749.6" y2="52.3"/>
<line x1="743.5" y1="106.7" x2="748.0" y2="106.7"/>
<line x1="742.0" y1="160.3" x2="746.5" y2="160.3"/>
<line x1="740.5" y1="211.0" x2="745.0" y2="211.0"/>
<line x1="739.1" y1="260.8" x2="743.6" y2="260.8"/>
<line x1="737.7" y1="308.7" x2="742.2" y2="308.7"/>
<line x1="744.3" y1="79.5" x2="747.3" y2="79.5"/>
<line x1="742.8" y1="133.5" x2="745.8" y2="133.5"/>
<line x1="741.3" y1="185.7" x2="744.3" y2="185.7"/>
<line x1="739.8" y1="235.9" x2="742.8" y2="235.9"/>
<line x1="738.4" y1="284.8" x2="741.4" y2="284.8"/>
</g>
<g font-size="13" fill="#222" stroke="#222" stroke-width="0.25">
<text x="461.9" y="58.6" text-anchor="end">1400</text>
<text x="464.6" y="110.4" text-anchor="end">1200</text>
<text x="467.6" y="162.3" text-anchor="end">1000</text>
<text x="469.4" y="212.8" text-anchor="end">800</text>
<text x="472.6" y="262.5" text-anchor="end">600</text>
<text x="474.8" y="309.5" text-anchor="end">400</text>
<text x="751.0" y="59.7">1400</text>
<text x="747.5" y="113.0">1200</text>
<text x="747.5" y="165.4">1000</text>
<text x="746.0" y="216.0">800</text>
<text x="743.5" y="265.0">600</text>
<text x="743.0" y="313.2">400</text>
<text x="457.5" y="341.8" textLength="24" lengthAdjust="spacingAndGlyphs">0.00</text>
<text x="521.5" y="342.6" textLength="24.3" lengthAdjust="spacingAndGlyphs">0.25</text>
<text x="717.5" y="345.5" textLength="23.5" lengthAdjust="spacingAndGlyphs">1.00</text>
</g>
<g clip-path="url(#silclip)"><polygon points="650.0,84.0 618.5,46.5 741.0,182.3" fill="url(#s0)" stroke="url(#s0)" stroke-width="1"/><polygon points="680.0,125.0 650.0,84.0 741.0,182.3" fill="url(#s1)" stroke="url(#s1)" stroke-width="1"/><polygon points="505.5,231.0 624.0,195.0 642.2,202.1" fill="url(#s2)" stroke="url(#s2)" stroke-width="1"/><polygon points="624.0,195.0 505.5,231.0 517.0,215.0" fill="url(#s3)" stroke="url(#s3)" stroke-width="1"/><polygon points="505.5,231.0 508.0,224.0 517.0,215.0" fill="url(#s4)" stroke="url(#s4)" stroke-width="1"/><polygon points="650.0,84.0 615.0,60.0 618.5,46.5" fill="url(#s5)" stroke="url(#s5)" stroke-width="1"/><polygon points="615.0,80.0 615.0,60.0 650.0,84.0" fill="url(#s6)" stroke="url(#s6)" stroke-width="1"/><polygon points="700.0,152.0 680.0,125.0 741.0,182.3" fill="url(#s7)" stroke="url(#s7)" stroke-width="1"/><polygon points="552.5,122.6 531.5,163.0 478.3,224.5" fill="url(#s8)" stroke="url(#s8)" stroke-width="1"/><polygon points="503.3,227.5 505.5,231.0 478.3,224.5" fill="url(#s9)" stroke="url(#s9)" stroke-width="1"/><polygon points="508.0,224.0 503.3,227.5 478.3,224.5" fill="url(#s10)" stroke="url(#s10)" stroke-width="1"/><polygon points="503.3,227.5 508.0,224.0 505.5,231.0" fill="url(#s11)" stroke="url(#s11)" stroke-width="1"/><polygon points="613.0,100.0 615.0,80.0 650.0,84.0" fill="url(#s12)" stroke="url(#s12)" stroke-width="1"/><polygon points="680.7,198.4 698.7,191.3 741.0,182.3" fill="url(#s13)" stroke="url(#s13)" stroke-width="1"/><polygon points="647.0,116.3 650.0,84.0 680.0,125.0" fill="url(#s14)" stroke="url(#s14)" stroke-width="1"/><polygon points="647.0,116.3 613.0,100.0 650.0,84.0" fill="url(#s15)" stroke="url(#s15)" stroke-width="1"/><polygon points="613.0,100.0 647.0,116.3 611.0,120.0" fill="url(#s16)" stroke="url(#s16)" stroke-width="1"/><polygon points="567.5,167.9 572.8,176.5 544.0,179.0" fill="url(#s17)" stroke="url(#s17)" stroke-width="1"/><polygon points="572.8,176.5 544.0,188.0 544.0,179.0" fill="url(#s18)" stroke="url(#s18)" stroke-width="1"/><polygon points="572.8,176.5 580.7,184.7 544.0,188.0" fill="url(#s19)" stroke="url(#s19)" stroke-width="1"/><polygon points="544.0,161.0 553.0,143.0 567.5,167.9" fill="url(#s20)" stroke="url(#s20)" stroke-width="1"/><polygon points="693.5,171.4 683.0,160.8 700.0,152.0" fill="url(#s21)" stroke="url(#s21)" stroke-width="1"/><polygon points="715.0,178.3 693.5,171.4 700.0,152.0" fill="url(#s22)" stroke="url(#s22)" stroke-width="1"/><polygon points="624.0,180.0 624.0,185.0 611.0,179.0" fill="url(#s23)" stroke="url(#s23)" stroke-width="1"/><polygon points="580.7,184.7 608.5,185.7 624.0,195.0" fill="url(#s24)" stroke="url(#s24)" stroke-width="1"/><polygon points="624.0,185.0 608.5,185.7 611.0,179.0" fill="url(#s25)" stroke="url(#s25)" stroke-width="1"/><polygon points="580.7,184.7 535.0,197.0 544.0,188.0" fill="url(#s26)" stroke="url(#s26)" stroke-width="1"/><polygon points="584.7,169.8 572.8,176.5 567.5,167.9" fill="url(#s27)" stroke="url(#s27)" stroke-width="1"/><polygon points="531.5,163.0 526.0,179.0 478.3,224.5" fill="url(#s28)" stroke="url(#s28)" stroke-width="1"/><polygon points="526.0,179.0 518.0,194.0 478.3,224.5" fill="url(#s29)" stroke="url(#s29)" stroke-width="1"/><polygon points="517.0,206.0 508.0,224.0 478.3,224.5" fill="url(#s30)" stroke="url(#s30)" stroke-width="1"/><polygon points="508.0,224.0 517.0,206.0 517.0,215.0" fill="url(#s31)" stroke="url(#s31)" stroke-width="1"/><polygon points="544.0,143.0 531.5,163.0 552.5,122.6" fill="url(#s32)" stroke="url(#s32)" stroke-width="1"/><polygon points="544.0,143.0 553.0,134.0 553.0,143.0" fill="url(#s33)" stroke="url(#s33)" stroke-width="1"/><polygon points="544.0,170.0 567.5,167.9 544.0,179.0" fill="url(#s34)" stroke="url(#s34)" stroke-width="1"/><polygon points="544.0,170.0 544.0,161.0 567.5,167.9" fill="url(#s35)" stroke="url(#s35)" stroke-width="1"/><polygon points="585.0,85.0 613.0,100.0 611.0,120.0" fill="url(#s36)" stroke="url(#s36)" stroke-width="1"/><polygon points="565.0,108.0 585.0,85.0 611.0,120.0" fill="url(#s37)" stroke="url(#s37)" stroke-width="1"/><polygon points="613.0,100.0 585.0,85.0 615.0,80.0" fill="url(#s38)" stroke="url(#s38)" stroke-width="1"/><polygon points="615.0,80.0 585.0,85.0 615.0,60.0" fill="url(#s39)" stroke="url(#s39)" stroke-width="1"/><polygon points="615.0,60.0 585.0,85.0 618.5,46.5" fill="url(#s40)" stroke="url(#s40)" stroke-width="1"/><polygon points="698.7,191.3 729.5,183.0 741.0,182.3" fill="url(#s41)" stroke="url(#s41)" stroke-width="1"/><polygon points="729.5,183.0 700.0,152.0 741.0,182.3" fill="url(#s42)" stroke="url(#s42)" stroke-width="1"/><polygon points="729.5,183.0 715.0,178.3 700.0,152.0" fill="url(#s43)" stroke="url(#s43)" stroke-width="1"/><polygon points="702.0,181.0 693.5,171.4 715.0,178.3" fill="url(#s44)" stroke="url(#s44)" stroke-width="1"/><polygon points="702.0,181.0 698.7,191.3 690.0,176.0" fill="url(#s45)" stroke="url(#s45)" stroke-width="1"/><polygon points="693.5,171.4 702.0,181.0 690.0,176.0" fill="url(#s46)" stroke="url(#s46)" stroke-width="1"/><polygon points="672.0,152.3 661.7,141.7 680.0,125.0" fill="url(#s47)" stroke="url(#s47)" stroke-width="1"/><polygon points="700.0,152.0 672.0,152.3 680.0,125.0" fill="url(#s48)" stroke="url(#s48)" stroke-width="1"/><polygon points="683.0,160.8 672.0,152.3 700.0,152.0" fill="url(#s49)" stroke="url(#s49)" stroke-width="1"/><polygon points="651.0,129.0 647.0,116.3 680.0,125.0" fill="url(#s50)" stroke="url(#s50)" stroke-width="1"/><polygon points="661.7,141.7 651.0,129.0 680.0,125.0" fill="url(#s51)" stroke="url(#s51)" stroke-width="1"/><polygon points="647.0,116.3 651.0,129.0 611.0,120.0" fill="url(#s52)" stroke="url(#s52)" stroke-width="1"/><polygon points="672.7,201.8 505.5,231.0 642.2,202.1" fill="url(#s53)" stroke="url(#s53)" stroke-width="1"/><polygon points="672.7,201.8 680.7,198.4 741.0,182.3" fill="url(#s54)" stroke="url(#s54)" stroke-width="1"/><polygon points="698.7,191.3 682.0,186.0 690.0,176.0" fill="url(#s55)" stroke="url(#s55)" stroke-width="1"/><polygon points="682.0,186.0 698.7,191.3 680.7,198.4" fill="url(#s56)" stroke="url(#s56)" stroke-width="1"/><polygon points="572.8,176.5 584.7,180.4 580.7,184.7" fill="url(#s57)" stroke="url(#s57)" stroke-width="1"/><polygon points="584.7,169.8 584.7,180.4 572.8,176.5" fill="url(#s58)" stroke="url(#s58)" stroke-width="1"/><polygon points="584.7,180.4 608.5,185.7 580.7,184.7" fill="url(#s59)" stroke="url(#s59)" stroke-width="1"/><polygon points="608.5,185.7 584.7,180.4 611.0,179.0" fill="url(#s60)" stroke="url(#s60)" stroke-width="1"/><polygon points="584.7,180.4 601.2,163.5 611.0,179.0" fill="url(#s61)" stroke="url(#s61)" stroke-width="1"/><polygon points="601.2,163.5 584.7,180.4 584.7,169.8" fill="url(#s62)" stroke="url(#s62)" stroke-width="1"/><polygon points="553.0,134.0 584.7,156.6 553.0,143.0" fill="url(#s63)" stroke="url(#s63)" stroke-width="1"/><polygon points="601.2,163.5 584.7,156.6 606.0,155.0" fill="url(#s64)" stroke="url(#s64)" stroke-width="1"/><polygon points="584.7,156.6 601.2,163.5 584.7,169.8" fill="url(#s65)" stroke="url(#s65)" stroke-width="1"/><polygon points="553.0,143.0 584.7,156.6 567.5,167.9" fill="url(#s66)" stroke="url(#s66)" stroke-width="1"/><polygon points="584.7,156.6 584.7,169.8 567.5,167.9" fill="url(#s67)" stroke="url(#s67)" stroke-width="1"/><polygon points="584.7,156.6 553.0,134.0 565.0,108.0" fill="url(#s68)" stroke="url(#s68)" stroke-width="1"/><polygon points="526.0,179.0 526.0,188.0 518.0,194.0" fill="url(#s69)" stroke="url(#s69)" stroke-width="1"/><polygon points="518.0,194.0 517.0,197.0 478.3,224.5" fill="url(#s70)" stroke="url(#s70)" stroke-width="1"/><polygon points="517.0,197.0 517.0,206.0 478.3,224.5" fill="url(#s71)" stroke="url(#s71)" stroke-width="1"/><polygon points="544.0,161.0 544.0,152.0 553.0,143.0" fill="url(#s72)" stroke="url(#s72)" stroke-width="1"/><polygon points="544.0,152.0 544.0,143.0 553.0,143.0" fill="url(#s73)" stroke="url(#s73)" stroke-width="1"/><polygon points="565.0,108.0 553.0,125.0 552.5,122.6" fill="url(#s74)" stroke="url(#s74)" stroke-width="1"/><polygon points="553.0,134.0 553.0,125.0 565.0,108.0" fill="url(#s75)" stroke="url(#s75)" stroke-width="1"/><polygon points="553.0,125.0 544.0,143.0 552.5,122.6" fill="url(#s76)" stroke="url(#s76)" stroke-width="1"/><polygon points="553.0,125.0 553.0,134.0 544.0,143.0" fill="url(#s77)" stroke="url(#s77)" stroke-width="1"/><polygon points="535.0,161.0 544.0,152.0 544.0,161.0" fill="url(#s78)" stroke="url(#s78)" stroke-width="1"/><polygon points="544.0,143.0 535.0,161.0 531.5,163.0" fill="url(#s79)" stroke="url(#s79)" stroke-width="1"/><polygon points="544.0,152.0 535.0,161.0 544.0,143.0" fill="url(#s80)" stroke="url(#s80)" stroke-width="1"/><polygon points="535.0,170.0 526.0,179.0 531.5,163.0" fill="url(#s81)" stroke="url(#s81)" stroke-width="1"/><polygon points="535.0,161.0 535.0,170.0 531.5,163.0" fill="url(#s82)" stroke="url(#s82)" stroke-width="1"/><polygon points="702.0,181.0 710.4,183.0 698.7,191.3" fill="url(#s83)" stroke="url(#s83)" stroke-width="1"/><polygon points="710.4,183.0 702.0,181.0 715.0,178.3" fill="url(#s84)" stroke="url(#s84)" stroke-width="1"/><polygon points="710.4,183.0 729.5,183.0 698.7,191.3" fill="url(#s85)" stroke="url(#s85)" stroke-width="1"/><polygon points="729.5,183.0 710.4,183.0 715.0,178.3" fill="url(#s86)" stroke="url(#s86)" stroke-width="1"/><polygon points="651.0,129.0 609.0,140.0 611.0,120.0" fill="url(#s87)" stroke="url(#s87)" stroke-width="1"/><polygon points="609.0,140.0 624.0,160.0 606.0,155.0" fill="url(#s88)" stroke="url(#s88)" stroke-width="1"/><polygon points="584.7,156.6 609.0,140.0 606.0,155.0" fill="url(#s89)" stroke="url(#s89)" stroke-width="1"/><polygon points="609.0,140.0 565.0,108.0 611.0,120.0" fill="url(#s90)" stroke="url(#s90)" stroke-width="1"/><polygon points="609.0,140.0 584.7,156.6 565.0,108.0" fill="url(#s91)" stroke="url(#s91)" stroke-width="1"/><polygon points="656.0,200.0 672.7,201.8 642.2,202.1" fill="url(#s92)" stroke="url(#s92)" stroke-width="1"/><polygon points="672.7,201.8 656.0,200.0 664.0,200.0" fill="url(#s93)" stroke="url(#s93)" stroke-width="1"/><polygon points="624.0,175.0 624.0,180.0 611.0,179.0" fill="url(#s94)" stroke="url(#s94)" stroke-width="1"/><polygon points="624.0,170.0 624.0,175.0 611.0,179.0" fill="url(#s95)" stroke="url(#s95)" stroke-width="1"/><polygon points="624.0,165.0 624.0,170.0 611.0,179.0" fill="url(#s96)" stroke="url(#s96)" stroke-width="1"/><polygon points="601.2,163.5 624.0,165.0 611.0,179.0" fill="url(#s97)" stroke="url(#s97)" stroke-width="1"/><polygon points="624.0,160.0 624.0,165.0 606.0,155.0" fill="url(#s98)" stroke="url(#s98)" stroke-width="1"/><polygon points="624.0,165.0 601.2,163.5 606.0,155.0" fill="url(#s99)" stroke="url(#s99)" stroke-width="1"/><polygon points="526.0,188.0 526.0,197.0 518.0,194.0" fill="url(#s100)" stroke="url(#s100)" stroke-width="1"/><polygon points="526.0,197.0 517.0,197.0 518.0,194.0" fill="url(#s101)" stroke="url(#s101)" stroke-width="1"/><polygon points="535.0,170.0 535.0,179.0 526.0,179.0" fill="url(#s102)" stroke="url(#s102)" stroke-width="1"/><polygon points="609.0,140.0 632.0,160.0 624.0,160.0" fill="url(#s103)" stroke="url(#s103)" stroke-width="1"/><polygon points="632.0,160.0 609.0,140.0 651.0,129.0" fill="url(#s104)" stroke="url(#s104)" stroke-width="1"/><polygon points="648.0,200.0 656.0,200.0 642.2,202.1" fill="url(#s105)" stroke="url(#s105)" stroke-width="1"/><polygon points="640.0,195.0 640.0,200.0 632.0,195.0" fill="url(#s106)" stroke="url(#s106)" stroke-width="1"/><polygon points="632.0,195.0 640.0,200.0 624.0,195.0" fill="url(#s107)" stroke="url(#s107)" stroke-width="1"/><polygon points="624.0,195.0 640.0,200.0 642.2,202.1" fill="url(#s108)" stroke="url(#s108)" stroke-width="1"/><polygon points="640.0,200.0 648.0,200.0 642.2,202.1" fill="url(#s109)" stroke="url(#s109)" stroke-width="1"/><polygon points="672.0,160.0 672.0,152.3 683.0,160.8" fill="url(#s110)" stroke="url(#s110)" stroke-width="1"/><polygon points="672.0,165.0 672.0,160.0 683.0,160.8" fill="url(#s111)" stroke="url(#s111)" stroke-width="1"/><polygon points="680.0,170.0 672.0,165.0 683.0,160.8" fill="url(#s112)" stroke="url(#s112)" stroke-width="1"/><polygon points="680.0,170.0 693.5,171.4 690.0,176.0" fill="url(#s113)" stroke="url(#s113)" stroke-width="1"/><polygon points="693.5,171.4 680.0,170.0 683.0,160.8" fill="url(#s114)" stroke="url(#s114)" stroke-width="1"/><polygon points="682.0,186.0 680.0,170.0 690.0,176.0" fill="url(#s115)" stroke="url(#s115)" stroke-width="1"/><polygon points="680.0,170.0 682.0,186.0 672.0,180.0" fill="url(#s116)" stroke="url(#s116)" stroke-width="1"/><polygon points="672.0,175.0 680.0,170.0 672.0,180.0" fill="url(#s117)" stroke="url(#s117)" stroke-width="1"/><polygon points="648.0,160.0 651.0,129.0 661.7,141.7" fill="url(#s118)" stroke="url(#s118)" stroke-width="1"/><polygon points="672.0,200.0 672.7,201.8 664.0,200.0" fill="url(#s119)" stroke="url(#s119)" stroke-width="1"/><polygon points="672.7,201.8 672.0,200.0 680.7,198.4" fill="url(#s120)" stroke="url(#s120)" stroke-width="1"/><polygon points="672.0,200.0 672.0,195.0 680.7,198.4" fill="url(#s121)" stroke="url(#s121)" stroke-width="1"/><polygon points="672.0,190.0 682.0,186.0 680.7,198.4" fill="url(#s122)" stroke="url(#s122)" stroke-width="1"/><polygon points="672.0,195.0 672.0,190.0 680.7,198.4" fill="url(#s123)" stroke="url(#s123)" stroke-width="1"/><polygon points="608.5,185.7 624.0,190.0 624.0,195.0" fill="url(#s124)" stroke="url(#s124)" stroke-width="1"/><polygon points="624.0,190.0 608.5,185.7 624.0,185.0" fill="url(#s125)" stroke="url(#s125)" stroke-width="1"/><polygon points="517.0,206.0 526.0,206.0 517.0,215.0" fill="url(#s126)" stroke="url(#s126)" stroke-width="1"/><polygon points="526.0,206.0 526.0,197.0 535.0,197.0" fill="url(#s127)" stroke="url(#s127)" stroke-width="1"/><polygon points="526.0,206.0 535.0,197.0 580.7,184.7" fill="url(#s128)" stroke="url(#s128)" stroke-width="1"/><polygon points="526.0,206.0 624.0,195.0 517.0,215.0" fill="url(#s129)" stroke="url(#s129)" stroke-width="1"/><polygon points="526.0,206.0 580.7,184.7 624.0,195.0" fill="url(#s130)" stroke="url(#s130)" stroke-width="1"/><polygon points="535.0,197.0 535.0,188.0 544.0,188.0" fill="url(#s131)" stroke="url(#s131)" stroke-width="1"/><polygon points="672.0,170.0 680.0,170.0 672.0,175.0" fill="url(#s132)" stroke="url(#s132)" stroke-width="1"/><polygon points="680.0,170.0 672.0,170.0 672.0,165.0" fill="url(#s133)" stroke="url(#s133)" stroke-width="1"/><polygon points="656.0,190.0 658.3,195.8 656.0,195.0" fill="url(#s134)" stroke="url(#s134)" stroke-width="1"/><polygon points="658.3,195.8 656.0,200.0 656.0,195.0" fill="url(#s135)" stroke="url(#s135)" stroke-width="1"/><polygon points="656.0,200.0 658.3,195.8 664.0,200.0" fill="url(#s136)" stroke="url(#s136)" stroke-width="1"/><polygon points="658.3,195.8 664.0,195.0 664.0,200.0" fill="url(#s137)" stroke="url(#s137)" stroke-width="1"/><polygon points="640.0,160.0 632.0,160.0 651.0,129.0" fill="url(#s138)" stroke="url(#s138)" stroke-width="1"/><polygon points="648.0,160.0 640.0,160.0 651.0,129.0" fill="url(#s139)" stroke="url(#s139)" stroke-width="1"/><polygon points="682.0,186.0 672.0,185.0 672.0,180.0" fill="url(#s140)" stroke="url(#s140)" stroke-width="1"/><polygon points="672.0,190.0 672.0,185.0 682.0,186.0" fill="url(#s141)" stroke="url(#s141)" stroke-width="1"/><polygon points="664.0,190.0 658.3,195.8 656.0,190.0" fill="url(#s142)" stroke="url(#s142)" stroke-width="1"/><polygon points="658.3,195.8 664.0,190.0 664.0,195.0" fill="url(#s143)" stroke="url(#s143)" stroke-width="1"/><polygon points="672.0,160.0 664.0,160.0 672.0,152.3" fill="url(#s144)" stroke="url(#s144)" stroke-width="1"/><polygon points="672.0,152.3 664.0,160.0 661.7,141.7" fill="url(#s145)" stroke="url(#s145)" stroke-width="1"/><polygon points="656.0,160.0 648.0,160.0 661.7,141.7" fill="url(#s146)" stroke="url(#s146)" stroke-width="1"/><polygon points="664.0,160.0 656.0,160.0 661.7,141.7" fill="url(#s147)" stroke="url(#s147)" stroke-width="1"/><polygon points="535.0,170.0 535.0,161.0 544.0,161.0" fill="url(#s148)" stroke="url(#s148)" stroke-width="1"/><polygon points="544.0,170.0 535.0,170.0 544.0,161.0" fill="url(#s149)" stroke="url(#s149)" stroke-width="1"/><polygon points="624.0,175.0 632.0,170.0 632.0,175.0" fill="url(#s150)" stroke="url(#s150)" stroke-width="1"/><polygon points="632.0,170.0 624.0,175.0 624.0,170.0" fill="url(#s151)" stroke="url(#s151)" stroke-width="1"/><polygon points="624.0,165.0 632.0,170.0 624.0,170.0" fill="url(#s152)" stroke="url(#s152)" stroke-width="1"/><polygon points="632.0,170.0 624.0,165.0 632.0,165.0" fill="url(#s153)" stroke="url(#s153)" stroke-width="1"/><polygon points="632.0,170.0 640.0,165.0 640.0,170.0" fill="url(#s154)" stroke="url(#s154)" stroke-width="1"/><polygon points="640.0,165.0 632.0,170.0 632.0,165.0" fill="url(#s155)" stroke="url(#s155)" stroke-width="1"/><polygon points="535.0,179.0 535.0,170.0 544.0,170.0" fill="url(#s156)" stroke="url(#s156)" stroke-width="1"/><polygon points="535.0,179.0 544.0,170.0 544.0,179.0" fill="url(#s157)" stroke="url(#s157)" stroke-width="1"/><polygon points="624.0,165.0 632.0,160.0 632.0,165.0" fill="url(#s158)" stroke="url(#s158)" stroke-width="1"/><polygon points="632.0,160.0 624.0,165.0 624.0,160.0" fill="url(#s159)" stroke="url(#s159)" stroke-width="1"/><polygon points="656.0,180.0 664.0,180.0 664.0,185.0" fill="url(#s160)" stroke="url(#s160)" stroke-width="1"/><polygon points="656.0,180.0 664.0,185.0 656.0,185.0" fill="url(#s161)" stroke="url(#s161)" stroke-width="1"/><polygon points="664.0,195.0 672.0,200.0 664.0,200.0" fill="url(#s162)" stroke="url(#s162)" stroke-width="1"/><polygon points="672.0,200.0 664.0,195.0 672.0,195.0" fill="url(#s163)" stroke="url(#s163)" stroke-width="1"/><polygon points="632.0,180.0 624.0,175.0 632.0,175.0" fill="url(#s164)" stroke="url(#s164)" stroke-width="1"/><polygon points="624.0,175.0 632.0,180.0 624.0,180.0" fill="url(#s165)" stroke="url(#s165)" stroke-width="1"/><polygon points="632.0,180.0 632.0,185.0 624.0,185.0" fill="url(#s166)" stroke="url(#s166)" stroke-width="1"/><polygon points="632.0,180.0 624.0,185.0 624.0,180.0" fill="url(#s167)" stroke="url(#s167)" stroke-width="1"/><polygon points="632.0,185.0 632.0,180.0 640.0,185.0" fill="url(#s168)" stroke="url(#s168)" stroke-width="1"/><polygon points="632.0,180.0 640.0,180.0 640.0,185.0" fill="url(#s169)" stroke="url(#s169)" stroke-width="1"/><polygon points="526.0,197.0 526.0,206.0 517.0,197.0" fill="url(#s170)" stroke="url(#s170)" stroke-width="1"/><polygon points="517.0,197.0 526.0,206.0 517.0,206.0" fill="url(#s171)" stroke="url(#s171)" stroke-width="1"/><polygon points="535.0,188.0 526.0,197.0 526.0,188.0" fill="url(#s172)" stroke="url(#s172)" stroke-width="1"/><polygon points="526.0,197.0 535.0,188.0 535.0,197.0" fill="url(#s173)" stroke="url(#s173)" stroke-width="1"/><polygon points="535.0,188.0 526.0,188.0 526.0,179.0" fill="url(#s174)" stroke="url(#s174)" stroke-width="1"/><polygon points="535.0,179.0 535.0,188.0 526.0,179.0" fill="url(#s175)" stroke="url(#s175)" stroke-width="1"/><polygon points="535.0,188.0 535.0,179.0 544.0,179.0" fill="url(#s176)" stroke="url(#s176)" stroke-width="1"/><polygon points="544.0,188.0 535.0,188.0 544.0,179.0" fill="url(#s177)" stroke="url(#s177)" stroke-width="1"/><polygon points="648.0,185.0 640.0,180.0 648.0,180.0" fill="url(#s178)" stroke="url(#s178)" stroke-width="1"/><polygon points="640.0,180.0 648.0,185.0 640.0,185.0" fill="url(#s179)" stroke="url(#s179)" stroke-width="1"/><polygon points="648.0,185.0 640.0,190.0 640.0,185.0" fill="url(#s180)" stroke="url(#s180)" stroke-width="1"/><polygon points="640.0,190.0 648.0,185.0 648.0,190.0" fill="url(#s181)" stroke="url(#s181)" stroke-width="1"/><polygon points="648.0,185.0 656.0,180.0 656.0,185.0" fill="url(#s182)" stroke="url(#s182)" stroke-width="1"/><polygon points="656.0,180.0 648.0,185.0 648.0,180.0" fill="url(#s183)" stroke="url(#s183)" stroke-width="1"/><polygon points="656.0,190.0 648.0,185.0 656.0,185.0" fill="url(#s184)" stroke="url(#s184)" stroke-width="1"/><polygon points="648.0,190.0 648.0,185.0 656.0,190.0" fill="url(#s185)" stroke="url(#s185)" stroke-width="1"/><polygon points="640.0,200.0 648.0,195.0 648.0,200.0" fill="url(#s186)" stroke="url(#s186)" stroke-width="1"/><polygon points="648.0,195.0 640.0,200.0 640.0,195.0" fill="url(#s187)" stroke="url(#s187)" stroke-width="1"/><polygon points="648.0,195.0 640.0,190.0 648.0,190.0" fill="url(#s188)" stroke="url(#s188)" stroke-width="1"/><polygon points="640.0,190.0 648.0,195.0 640.0,195.0" fill="url(#s189)" stroke="url(#s189)" stroke-width="1"/><polygon points="656.0,200.0 648.0,195.0 656.0,195.0" fill="url(#s190)" stroke="url(#s190)" stroke-width="1"/><polygon points="648.0,200.0 648.0,195.0 656.0,200.0" fill="url(#s191)" stroke="url(#s191)" stroke-width="1"/><polygon points="648.0,195.0 648.0,190.0 656.0,190.0" fill="url(#s192)" stroke="url(#s192)" stroke-width="1"/><polygon points="648.0,195.0 656.0,190.0 656.0,195.0" fill="url(#s193)" stroke="url(#s193)" stroke-width="1"/><polygon points="656.0,180.0 664.0,175.0 664.0,180.0" fill="url(#s194)" stroke="url(#s194)" stroke-width="1"/><polygon points="664.0,175.0 656.0,180.0 656.0,175.0" fill="url(#s195)" stroke="url(#s195)" stroke-width="1"/><polygon points="664.0,175.0 672.0,175.0 672.0,180.0" fill="url(#s196)" stroke="url(#s196)" stroke-width="1"/><polygon points="664.0,180.0 664.0,175.0 672.0,180.0" fill="url(#s197)" stroke="url(#s197)" stroke-width="1"/><polygon points="664.0,175.0 672.0,170.0 672.0,175.0" fill="url(#s198)" stroke="url(#s198)" stroke-width="1"/><polygon points="672.0,170.0 664.0,175.0 664.0,170.0" fill="url(#s199)" stroke="url(#s199)" stroke-width="1"/><polygon points="664.0,165.0 672.0,170.0 664.0,170.0" fill="url(#s200)" stroke="url(#s200)" stroke-width="1"/><polygon points="672.0,170.0 664.0,165.0 672.0,165.0" fill="url(#s201)" stroke="url(#s201)" stroke-width="1"/><polygon points="640.0,160.0 640.0,165.0 632.0,165.0" fill="url(#s202)" stroke="url(#s202)" stroke-width="1"/><polygon points="632.0,160.0 640.0,160.0 632.0,165.0" fill="url(#s203)" stroke="url(#s203)" stroke-width="1"/><polygon points="648.0,175.0 656.0,180.0 648.0,180.0" fill="url(#s204)" stroke="url(#s204)" stroke-width="1"/><polygon points="656.0,180.0 648.0,175.0 656.0,175.0" fill="url(#s205)" stroke="url(#s205)" stroke-width="1"/><polygon points="640.0,160.0 648.0,165.0 640.0,165.0" fill="url(#s206)" stroke="url(#s206)" stroke-width="1"/><polygon points="648.0,165.0 640.0,160.0 648.0,160.0" fill="url(#s207)" stroke="url(#s207)" stroke-width="1"/><polygon points="640.0,165.0 648.0,165.0 640.0,170.0" fill="url(#s208)" stroke="url(#s208)" stroke-width="1"/><polygon points="648.0,165.0 648.0,170.0 640.0,170.0" fill="url(#s209)" stroke="url(#s209)" stroke-width="1"/><polygon points="664.0,180.0 672.0,185.0 664.0,185.0" fill="url(#s210)" stroke="url(#s210)" stroke-width="1"/><polygon points="672.0,185.0 664.0,180.0 672.0,180.0" fill="url(#s211)" stroke="url(#s211)" stroke-width="1"/><polygon points="672.0,185.0 664.0,190.0 664.0,185.0" fill="url(#s212)" stroke="url(#s212)" stroke-width="1"/><polygon points="664.0,190.0 672.0,185.0 672.0,190.0" fill="url(#s213)" stroke="url(#s213)" stroke-width="1"/><polygon points="664.0,195.0 664.0,190.0 672.0,195.0" fill="url(#s214)" stroke="url(#s214)" stroke-width="1"/><polygon points="664.0,190.0 672.0,190.0 672.0,195.0" fill="url(#s215)" stroke="url(#s215)" stroke-width="1"/><polygon points="664.0,185.0 664.0,190.0 656.0,185.0" fill="url(#s216)" stroke="url(#s216)" stroke-width="1"/><polygon points="664.0,190.0 656.0,190.0 656.0,185.0" fill="url(#s217)" stroke="url(#s217)" stroke-width="1"/><polygon points="624.0,190.0 632.0,190.0 624.0,195.0" fill="url(#s218)" stroke="url(#s218)" stroke-width="1"/><polygon points="632.0,190.0 632.0,195.0 624.0,195.0" fill="url(#s219)" stroke="url(#s219)" stroke-width="1"/><polygon points="632.0,185.0 632.0,190.0 624.0,185.0" fill="url(#s220)" stroke="url(#s220)" stroke-width="1"/><polygon points="632.0,190.0 624.0,190.0 624.0,185.0" fill="url(#s221)" stroke="url(#s221)" stroke-width="1"/><polygon points="632.0,190.0 640.0,190.0 640.0,195.0" fill="url(#s222)" stroke="url(#s222)" stroke-width="1"/><polygon points="632.0,190.0 640.0,195.0 632.0,195.0" fill="url(#s223)" stroke="url(#s223)" stroke-width="1"/><polygon points="632.0,190.0 632.0,185.0 640.0,185.0" fill="url(#s224)" stroke="url(#s224)" stroke-width="1"/><polygon points="640.0,190.0 632.0,190.0 640.0,185.0" fill="url(#s225)" stroke="url(#s225)" stroke-width="1"/><polygon points="664.0,165.0 664.0,160.0 672.0,165.0" fill="url(#s226)" stroke="url(#s226)" stroke-width="1"/><polygon points="664.0,160.0 672.0,160.0 672.0,165.0" fill="url(#s227)" stroke="url(#s227)" stroke-width="1"/><polygon points="648.0,170.0 640.0,175.0 640.0,170.0" fill="url(#s228)" stroke="url(#s228)" stroke-width="1"/><polygon points="648.0,175.0 640.0,175.0 648.0,170.0" fill="url(#s229)" stroke="url(#s229)" stroke-width="1"/><polygon points="640.0,180.0 640.0,175.0 648.0,180.0" fill="url(#s230)" stroke="url(#s230)" stroke-width="1"/><polygon points="640.0,175.0 648.0,175.0 648.0,180.0" fill="url(#s231)" stroke="url(#s231)" stroke-width="1"/><polygon points="632.0,170.0 640.0,175.0 632.0,175.0" fill="url(#s232)" stroke="url(#s232)" stroke-width="1"/><polygon points="640.0,175.0 632.0,170.0 640.0,170.0" fill="url(#s233)" stroke="url(#s233)" stroke-width="1"/><polygon points="640.0,175.0 632.0,180.0 632.0,175.0" fill="url(#s234)" stroke="url(#s234)" stroke-width="1"/><polygon points="632.0,180.0 640.0,175.0 640.0,180.0" fill="url(#s235)" stroke="url(#s235)" stroke-width="1"/><polygon points="656.0,170.0 664.0,175.0 656.0,175.0" fill="url(#s236)" stroke="url(#s236)" stroke-width="1"/><polygon points="664.0,175.0 656.0,170.0 664.0,170.0" fill="url(#s237)" stroke="url(#s237)" stroke-width="1"/><polygon points="656.0,170.0 664.0,165.0 664.0,170.0" fill="url(#s238)" stroke="url(#s238)" stroke-width="1"/><polygon points="656.0,170.0 656.0,165.0 664.0,165.0" fill="url(#s239)" stroke="url(#s239)" stroke-width="1"/><polygon points="648.0,175.0 656.0,170.0 656.0,175.0" fill="url(#s240)" stroke="url(#s240)" stroke-width="1"/><polygon points="656.0,170.0 648.0,175.0 648.0,170.0" fill="url(#s241)" stroke="url(#s241)" stroke-width="1"/><polygon points="648.0,165.0 656.0,170.0 648.0,170.0" fill="url(#s242)" stroke="url(#s242)" stroke-width="1"/><polygon points="656.0,165.0 656.0,170.0 648.0,165.0" fill="url(#s243)" stroke="url(#s243)" stroke-width="1"/><polygon points="656.0,160.0 648.0,165.0 648.0,160.0" fill="url(#s244)" stroke="url(#s244)" stroke-width="1"/><polygon points="656.0,160.0 656.0,165.0 648.0,165.0" fill="url(#s245)" stroke="url(#s245)" stroke-width="1"/><polygon points="656.0,160.0 664.0,160.0 664.0,165.0" fill="url(#s246)" stroke="url(#s246)" stroke-width="1"/><polygon points="656.0,165.0 656.0,160.0 664.0,165.0" fill="url(#s247)" stroke="url(#s247)" stroke-width="1"/></g>
<polygon points="478.3,224.5 503.8,227.5 518.0,194.0 531.5,163.0 552.5,122.6 618.5,46.5 715.0,178.3 741.0,182.3 672.7,201.8 642.2,202.1 580.7,184.7 505.5,231.0" fill="none" stroke="#2a3440" stroke-width="0.7" stroke-opacity="0.8"/>
<g stroke="#26323f" stroke-width="0.7" stroke-opacity="0.85" fill="none">
<line x1="618.5" y1="46.5" x2="600.8" y2="163.8"/>
<line x1="618.5" y1="46.5" x2="659.0" y2="196.1"/>
<line x1="552.5" y1="122.6" x2="567.5" y2="167.9"/>
<line x1="552.5" y1="122.6" x2="600.8" y2="163.8"/>
<line x1="567.5" y1="167.9" x2="600.8" y2="163.8"/>
<line x1="567.5" y1="167.9" x2="572.8" y2="176.5"/>
<line x1="572.8" y1="176.5" x2="600.8" y2="163.8"/>
<line x1="503.3" y1="227.5" x2="567.5" y2="167.9"/>
<line x1="505.5" y1="231.0" x2="572.8" y2="176.5"/>
<line x1="600.8" y1="163.8" x2="659.0" y2="196.1"/>
<line x1="659.0" y1="196.1" x2="715.4" y2="178.6"/>
<line x1="659.0" y1="196.1" x2="672.5" y2="201.8"/>
<line x1="659.0" y1="196.1" x2="642.2" y2="202.1"/>
<polyline points="503.3,227.5 572.8,176.5"/>
<polyline points="505.5,231.0 580.7,184.7"/>
<polyline points="503.8,229.0 568.0,170.0"/>
<polyline points="504.5,230.0 576.0,180.5"/>
<polyline points="572.8,176.5 616.5,183.2 659.0,196.1"/>
<polyline points="603.0,166.5 656.0,196.5"/>
<polyline points="590.0,180.0 648.0,193.0"/>
<polyline points="567.5,167.9 605.0,171.0 640.0,190.0"/>
<polyline points="715.4,178.6 669.7,195.9 672.5,201.8"/>
<polyline points="633.7,191.8 642.2,202.1"/>
<polyline points="741.0,182.3 690.0,194.0"/>
<polyline points="607.2,168.0 619.0,184.5"/>
<polyline points="633.7,191.8 659.0,196.1"/>
</g>
<g stroke="#222" stroke-width="1.2">
<line x1="481.9" y1="325.8" x2="478.4" y2="328.1"/>
<line x1="545.7" y1="326.9" x2="542.2" y2="329.2"/>
<line x1="609.5" y1="327.9" x2="606.0" y2="330.2"/>
<line x1="673.3" y1="328.9" x2="669.8" y2="331.2"/>
<line x1="737.1" y1="330.0" x2="733.6" y2="332.3"/>
</g>
<rect x="747" y="171.1" width="89" height="26.4" fill="#3c60b0"/>
<text x="753.5" y="190" font-size="15" fill="#fff" stroke="#fff" stroke-width="0.25">Liquidus <tspan font-style="italic">T</tspan><tspan font-size="9.5" dy="3" dx="-0.5">L</tspan></text>
<g fill="#f0c4c4" fill-opacity="0.85">
<ellipse cx="576" cy="305" rx="34.5" ry="11.5" transform="rotate(59 576 305)"/>
<ellipse cx="650.5" cy="318.5" rx="24.9" ry="13.5"/>
<ellipse cx="707" cy="317.4" rx="10.1" ry="11"/>
</g>
<g fill="#c81c1c">
<line x1="555.6" y1="280.1" x2="584.2" y2="327.7" stroke="#c81c1c" stroke-width="3.6"/>
<circle cx="555.6" cy="280.1" r="4.4"/>
<circle cx="570.2" cy="305.9" r="4.5"/>
<circle cx="575.8" cy="313.4" r="4.5"/>
<circle cx="584.2" cy="327.7" r="4.8"/>
<circle cx="650.5" cy="327.7" r="4.3"/>
<circle cx="710.8" cy="315.0" r="4.3"/>
<circle cx="736.5" cy="329.5" r="5.2"/>
</g>
<circle cx="505.9" cy="311.2" r="4" fill="none" stroke="#111" stroke-width="2.7"/>
<text x="535" y="264" font-size="14" fill="#222" stroke="#222" stroke-width="0.25">GeTe</text>
<text x="607" y="268.4" font-size="19" fill="#cc1f1f" stroke="#cc1f1f" stroke-width="0.25">Ge</text>
<text x="425.5" y="343.5" font-size="20" fill="#cc1f1f" stroke="#cc1f1f" stroke-width="0.25">Te</text>
<text x="753" y="349.5" font-size="20" fill="#cc1f1f" stroke="#cc1f1f" stroke-width="0.25">Sb</text>
<text x="575" y="350" font-size="14" fill="#222" stroke="#222" stroke-width="0.25">Sb<tspan font-size="10" dy="4">2</tspan><tspan dy="-4">Te</tspan><tspan font-size="10" dy="4">3</tspan></text>
<text x="647" y="350" font-size="14" fill="#222" stroke="#222" stroke-width="0.25">Sb<tspan font-size="10" dy="4">2</tspan><tspan dy="-4">Te</tspan></text>
<text x="558.6" y="377" font-size="16.3" fill="#222" stroke="#222" stroke-width="0.25">Atomic Fraction</text>
<text transform="translate(489,313) rotate(-33)" font-size="16" fill="#222" stroke="#222" stroke-width="0.25">Ge<tspan font-size="9.5" dy="3">15</tspan><tspan dy="-3" dx="-0.5">Te</tspan><tspan font-size="9.5" dy="3">85</tspan></text>
<text transform="translate(677,277.8) rotate(34)" font-size="15.5" fill="#222" stroke="#222" stroke-width="0.25">Ge<tspan font-size="9.5" dy="3">15</tspan><tspan dy="-3" dx="-0.5">Sb</tspan><tspan font-size="9.5" dy="3">85</tspan></text>
</svg></body></html>
